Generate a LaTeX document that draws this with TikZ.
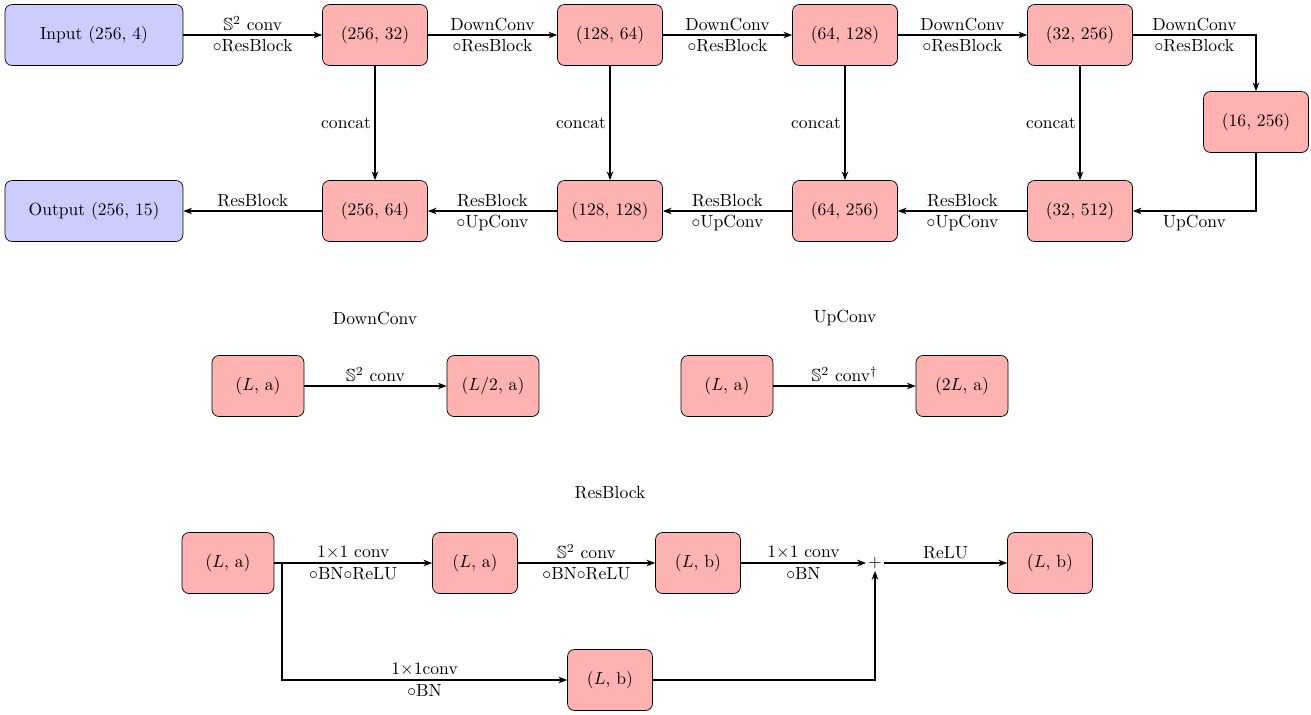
\documentclass[tikz,border=0pt]{standalone}
\usepackage{amssymb}
\usetikzlibrary{arrows.meta}
\begin{document}
\begin{tikzpicture}[x=0.02cm, y=-0.02cm]
\tikzstyle{box} = [draw, rounded corners=4pt, fill=red!30, minimum height=1.22cm, minimum width=2.1cm, inner sep=2pt]
\tikzstyle{io} = [box, fill=blue!20, minimum width=3.56cm]
\tikzstyle{small} = [box, minimum width=1.84cm]
\tikzstyle{edge} = [draw, semithick, -{Stealth[length=5pt]}]
\tikzstyle{lab} = [inner sep=2pt]
\useasboundingbox (0,0) rectangle (1311,714);
% encoder / decoder
\node[io] (in) at (94,35) {Input (256, 4)};
\node[box] (e1) at (375,35) {(256, 32)};
\node[box] (e2) at (610,35) {(128, 64)};
\node[box] (e3) at (845,35) {(64, 128)};
\node[box] (e4) at (1080,35) {(32, 256)};
\node[box] (e5) at (1256,122) {(16, 256)};
\node[io] (out) at (94,211) {Output (256, 15)};
\node[box] (d1) at (375,211) {(256, 64)};
\node[box] (d2) at (610,211) {(128, 128)};
\node[box] (d3) at (845,211) {(64, 256)};
\node[box] (d4) at (1080,211) {(32, 512)};
\draw[edge] (in) -- node[lab,above]{$\mathbb{S}^2$ conv} node[lab,below]{$\circ$ResBlock} (e1);
\draw[edge] (e1) -- node[lab,above]{DownConv} node[lab,below]{$\circ$ResBlock} (e2);
\draw[edge] (e2) -- node[lab,above]{DownConv} node[lab,below]{$\circ$ResBlock} (e3);
\draw[edge] (e3) -- node[lab,above]{DownConv} node[lab,below]{$\circ$ResBlock} (e4);
\draw[edge] (e4) -| node[lab,above,pos=0.25]{DownConv} node[lab,below,pos=0.25]{$\circ$ResBlock} (e5);
\draw[edge] (e5) |- node[lab,below,pos=0.75]{UpConv} (d4);
\draw[edge] (d4) -- node[lab,above]{ResBlock} node[lab,below]{$\circ$UpConv} (d3);
\draw[edge] (d3) -- node[lab,above]{ResBlock} node[lab,below]{$\circ$UpConv} (d2);
\draw[edge] (d2) -- node[lab,above]{ResBlock} node[lab,below]{$\circ$UpConv} (d1);
\draw[edge] (d1) -- node[lab,above]{ResBlock} (out);
\draw[edge] (e1) -- node[lab,left]{concat} (d1);
\draw[edge] (e2) -- node[lab,left]{concat} (d2);
\draw[edge] (e3) -- node[lab,left]{concat} (d3);
\draw[edge] (e4) -- node[lab,left]{concat} (d4);
% DownConv / UpConv
\node[draw=none] (tdown) at (375,318) {DownConv};
\node[small] (dc1) at (258,386) {($L$, a)};
\node[small] (dc2) at (493,386) {($L/2$, a)};
\draw[edge] (dc1) -- node[lab,above]{$\mathbb{S}^2$ conv} (dc2);
\node[draw=none] (tup) at (845,318) {UpConv};
\node[small] (uc1) at (727,386) {($L$, a)};
\node[small] (uc2) at (962,386) {($2L$, a)};
\draw[edge] (uc1) -- node[lab,above]{$\mathbb{S}^2$ conv$^\dagger$} (uc2);
% ResBlock
\node[draw=none] (tres) at (610,493) {ResBlock};
\node[small] (r1) at (228,563) {($L$, a)};
\node[small, minimum width=1.7cm] (r2) at (475,563) {($L$, a)};
\node[small, minimum width=1.7cm] (r3) at (698,563) {($L$, b)};
\node[inner sep=1pt] (plus) at (875,563) {$+$};
\node[small, minimum width=1.7cm] (r4) at (1050,563) {($L$, b)};
\node[small, minimum width=1.7cm] (rs) at (610,680) {($L$, b)};
\coordinate (split) at (282,563);
\draw[edge] (r1) -- node[lab,above]{1$\times$1 conv} node[lab,below]{$\circ$BN$\circ$ReLU} (r2);
\draw[edge] (r2) -- node[lab,above]{$\mathbb{S}^2$ conv} node[lab,below]{$\circ$BN$\circ$ReLU} (r3);
\draw[edge] (r3) -- node[lab,above]{1$\times$1 conv} node[lab,below]{$\circ$BN} (plus);
\draw[edge] (plus) -- node[lab,above]{ReLU} (r4);
\draw[edge] (split) |- node[lab,above,pos=0.75]{1$\times$1conv} node[lab,below,pos=0.75]{$\circ$BN} (rs);
\draw[edge] (rs) -| (plus);
\end{tikzpicture}
\end{document}
